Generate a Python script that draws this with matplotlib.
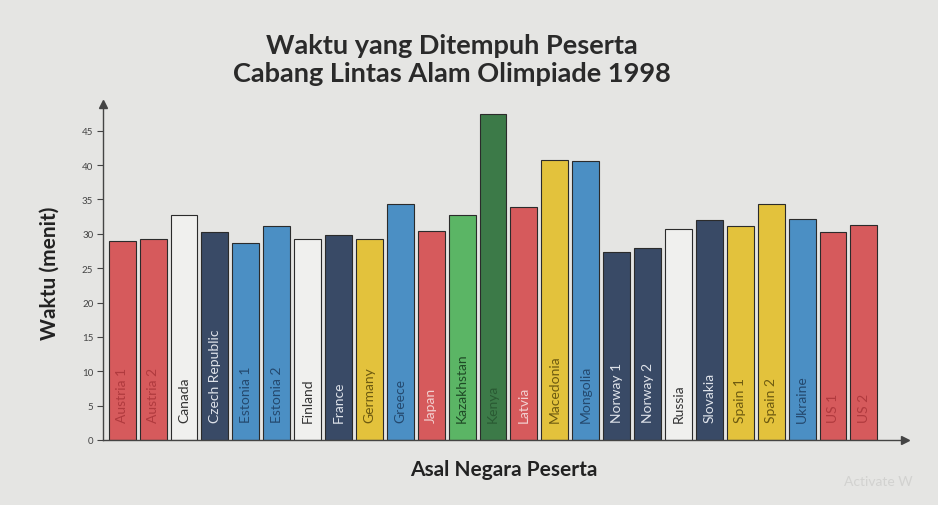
import matplotlib.pyplot as plt
import numpy as np

plt.rcParams['font.family'] = ['Lato', 'DejaVu Sans']

# ___data___
negara = ['Austria 1', 'Austria 2', 'Canada', 'Czech Republic', 'Estonia 1',
          'Estonia 2', 'Finland', 'France', 'Germany', 'Greece', 'Japan',
          'Kazakhstan', 'Kenya', 'Latvia', 'Macedonia', 'Mongolia',
          'Norway 1', 'Norway 2', 'Russia', 'Slovakia', 'Spain 1', 'Spain 2',
          'Ukraine', 'US 1', 'US 2']
waktu = [29.0, 29.3, 32.7, 30.2, 28.7, 31.2, 29.2, 29.8, 29.3, 34.3, 30.4,
         32.8, 47.5, 33.9, 40.7, 40.6, 27.4, 28.0, 30.7, 32.0, 31.2, 34.3,
         32.1, 30.2, 31.3]

# ___colour per bar (fill, label text)___
RED, WHITE, NAVY, BLUE = '#d65a5c', '#f0f0ee', '#394a66', '#4b8fc4'
YELLOW, GREEN, DGREEN = '#e3c23c', '#5bb565', '#3c7a48'
warna = [RED, RED, WHITE, NAVY, BLUE, BLUE, WHITE, NAVY, YELLOW, BLUE, RED,
         GREEN, DGREEN, RED, YELLOW, BLUE, NAVY, NAVY, WHITE, NAVY, YELLOW,
         YELLOW, BLUE, RED, RED]
teks_warna = {RED: '#b03a3e', WHITE: '#333333', NAVY: '#dfe3ea',
              BLUE: '#24496e', YELLOW: '#6d5a10', GREEN: '#1f4a26',
              DGREEN: '#2a5a33'}
teks_khusus = {'Japan': '#f2d0d0', 'Latvia': '#f2d0d0'}

bg = '#e5e5e3'
fig = plt.figure(figsize=(9.38, 5.06), dpi=100, facecolor=bg)
ax = fig.add_axes([0.1098, 0.1285, 0.855, 0.664], facecolor=bg)

x = np.arange(len(negara))
ax.bar(x, waktu, width=0.87, color=warna, edgecolor='#2b2b2b', linewidth=0.8)

for i, (n, c) in enumerate(zip(negara, warna)):
    tc = teks_khusus.get(n, teks_warna[c])
    ax.text(i, 2.6, n, rotation=90, ha='center', va='bottom', fontsize=10,
            color=tc)

ax.set_xlim(-0.62, 25.33)
ax.set_ylim(0, 48.9)
ax.set_yticks(range(0, 50, 5))
ax.set_xticks([])
ax.tick_params(axis='y', labelsize=7, colors='#444444', length=4,
               width=0.8, pad=3)
for s in ['top', 'right']:
    ax.spines[s].set_visible(False)
for s in ['left', 'bottom']:
    ax.spines[s].set_color('#444444')
    ax.spines[s].set_linewidth(1.0)

# arrows at the ends of the axes
ax.plot(1, 0, '>', color='#444444', markersize=6, transform=ax.transAxes,
        clip_on=False)
ax.plot(0, 1, '^', color='#444444', markersize=6, transform=ax.transAxes,
        clip_on=False)

ax.set_ylabel('Waktu (menit)', fontsize=15, fontweight='bold',
              color='#222222', labelpad=16)
ax.set_xlabel('Asal Negara Peserta', fontsize=15, fontweight='bold',
              color='#222222', labelpad=14)

fig.text(0.482, 0.881, 'Waktu yang Ditempuh Peserta\nCabang Lintas Alam Olimpiade 1998',
         ha='center', va='center', fontsize=19.5, fontweight='bold',
         color='#2a2a2a', linespacing=1.2)

fig.text(0.9, 0.04, 'Activate W', fontsize=10, color='#d2d2d0')

fig.savefig('out.png', dpi=100, facecolor=bg)
